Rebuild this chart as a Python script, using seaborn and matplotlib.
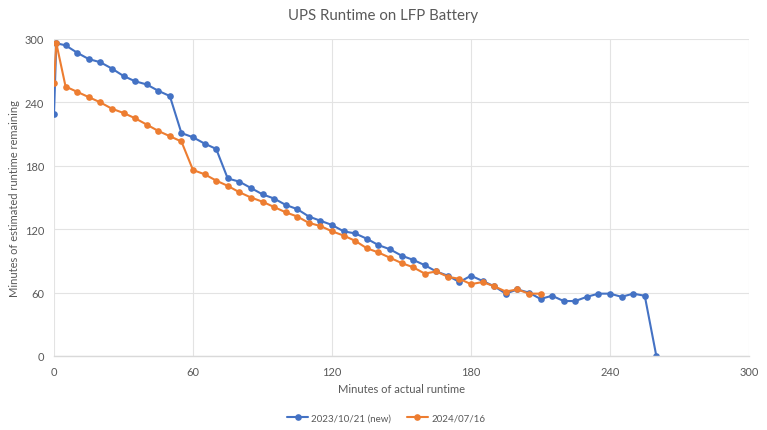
import matplotlib
matplotlib.use("Agg")
import matplotlib.pyplot as plt
import seaborn as sns
import pandas as pd
from matplotlib.lines import Line2D

# ---- data ----
blue_label = "2023/10/21 (new)"
orange_label = "2024/07/16"

blue_x = [0, 1, 5, 10, 15, 20, 25, 30, 35, 40, 45, 50, 55, 60, 65, 70, 75, 80, 85, 90,
          95, 100, 105, 110, 115, 120, 125, 130, 135, 140, 145, 150, 155, 160, 165, 170,
          175, 180, 185, 190, 195, 200, 205, 210, 215, 220, 225, 230, 235, 240, 245, 250,
          255, 260]
blue_y = [229, 296, 294, 287, 281, 278, 272, 265, 260, 257, 251, 246, 211, 207, 201, 196,
          168, 165, 159, 153, 149, 143, 139, 132, 128, 124, 118, 116, 111, 105, 101, 95,
          91, 86, 80, 76, 70, 76, 71, 66, 59, 63, 60, 54, 57, 52, 52, 56, 59, 59, 56, 59,
          57, 0]

orange_x = [0, 1, 5, 10, 15, 20, 25, 30, 35, 40, 45, 50, 55, 60, 65, 70, 75, 80, 85, 90,
            95, 100, 105, 110, 115, 120, 125, 130, 135, 140, 145, 150, 155, 160, 165, 170,
            175, 180, 185, 190, 195, 200, 205, 210]
orange_y = [258, 296, 255, 250, 245, 240, 234, 230, 225, 219, 213, 208, 203, 176, 172, 166,
            161, 155, 150, 146, 141, 136, 132, 126, 123, 118, 114, 109, 102, 98, 93, 88,
            84, 78, 80, 75, 73, 68, 70, 66, 61, 63, 59, 59]

x_ticks = [0, 60, 120, 180, 240, 300]
y_ticks = [0, 60, 120, 180, 240, 300]

title = "UPS Runtime on LFP Battery"
x_label = "Minutes of actual runtime"
y_label = "Minutes of estimated runtime remaining"

# ---- build frame ----
df = pd.concat([
    pd.DataFrame({"x": blue_x, "y": blue_y, "series": blue_label}),
    pd.DataFrame({"x": orange_x, "y": orange_y, "series": orange_label}),
], ignore_index=True)

sns.set_theme(style="white")
plt.rcParams["font.family"] = ["Lato", "DejaVu Sans"]

text_col = "#595959"
grid_col = "#E3E3E3"
palette = {blue_label: "#4472C4", orange_label: "#ED7D31"}

fig = plt.figure(figsize=(7.67, 4.31), dpi=100)
ax = fig.add_axes([54 / 767, 1 - 357 / 431, (749 - 54) / 767, (357 - 40) / 431])

sns.lineplot(data=df, x="x", y="y", hue="series", palette=palette, marker="o",
             markersize=4.8, markeredgewidth=0, linewidth=1.5, sort=False,
             estimator=None, ax=ax, legend=False)

ax.set_xlim(0, 300)
ax.set_ylim(0, 300)
ax.set_xticks(x_ticks)
ax.set_yticks(y_ticks)
ax.tick_params(axis="both", colors=text_col, labelsize=8, length=0, pad=7)
ax.grid(True, color=grid_col, linewidth=0.8)
ax.set_axisbelow(True)
for s in ["top", "right", "left"]:
    ax.spines[s].set_visible(False)
ax.spines["bottom"].set_color("#D9D9D9")
ax.spines["bottom"].set_linewidth(1.0)

ax.set_xlabel(x_label, color=text_col, fontsize=8)
ax.set_ylabel(y_label, color=text_col, fontsize=8)
ax.xaxis.set_label_coords(0.5, -(384 - 357) / 317)
ax.yaxis.set_label_coords(-(54 - 20) / 695, 0.5)
fig.text(0.5, 1 - 16 / 431, title, ha="center", va="center", color=text_col, fontsize=10.8)

handles = [Line2D([0], [0], color=palette[blue_label], marker="o", markersize=4.8, markeredgewidth=0, linewidth=1.5),
           Line2D([0], [0], color=palette[orange_label], marker="o", markersize=4.8, markeredgewidth=0, linewidth=1.5)]
leg = fig.legend(handles, [blue_label, orange_label], loc="center", bbox_to_anchor=(386 / 767, 1 - 419 / 431),
                 ncol=2, frameon=False, fontsize=7, handlelength=2.2, columnspacing=1.6, handletextpad=0.3)
for t in leg.get_texts():
    t.set_color(text_col)

fig.savefig("out.png", dpi=100)
